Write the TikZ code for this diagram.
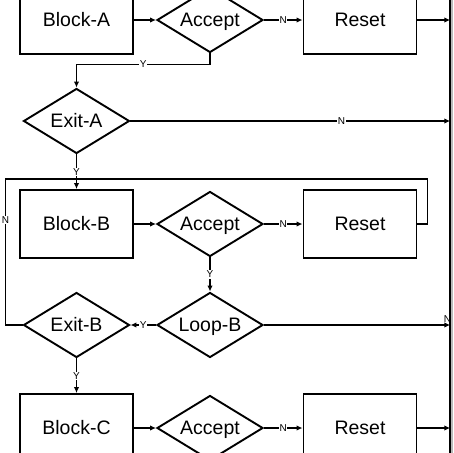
\documentclass[tikz,border=0pt]{standalone}
\usepackage{fontspec}
\setmainfont{Liberation Sans}
\usetikzlibrary{shapes.geometric,arrows.meta}
\begin{document}
\begin{tikzpicture}[x=1pt,y=-1pt,
  txt/.style={font=\fontsize{19.5}{22}\selectfont, text height=13.8pt, text depth=0pt},
  box/.style={draw, txt, line width=1.9pt, minimum width=113pt, minimum height=68pt, inner sep=0pt},
  dia/.style={draw, txt, diamond, line width=1.9pt, aspect=1.63, minimum width=106pt, minimum height=65pt, inner sep=0pt},
  ln/.style={line width=1.9pt},
  arr/.style={ln, -{Latex[length=6pt,width=5.5pt]}},
  lbl/.style={fill=white, inner sep=0.6pt, font=\fontsize{10}{11}\selectfont}]
\useasboundingbox (0,0) rectangle (453,453);
% bus at right
\coordinate (busT) at (450.3,-5);
\coordinate (busB) at (450.3,460);
\fill[gray!55] (451,-5) rectangle (453,460);
\draw[ln] (busT) -- (busB);
% nodes
\node[box] (bA) at (76.5,20) {Block-A};
\node[dia] (aA) at (210,20) {Accept};
\node[box] (rA) at (360,20) {Reset};
\node[dia] (eA) at (76.5,121) {Exit-A};
\node[box] (bB) at (76.5,224) {Block-B};
\node[dia] (aB) at (210,224) {Accept};
\node[box] (rB) at (360,224) {Reset};
\node[dia] (lB) at (210,325) {Loop-B};
\node[dia] (eB) at (76.5,325) {Exit-B};
\node[box] (bC) at (76.5,428) {Block-C};
\node[dia] (aC) at (210,428) {Accept};
\node[box] (rC) at (360,428) {Reset};
\coordinate (jB) at (76.5,179);
\coordinate (lx) at (5.5,179);
% connectors
\draw[arr] (bA) -- (aA);
\draw[arr] (aA) -- node[lbl]{N} (rA);
\draw[arr] (rA) -- (rA -| busT);
\draw[arr] (aA.south) -- ++(0,11) -| node[lbl,pos=0.25]{Y} (eA.north);
\draw[arr] (eA) -- node[lbl,pos=0.66]{N} (eA -| busT);
\draw[arr] (eA.south) -- node[lbl]{Y} (bB.north);
\draw[ln] (rB.east) -- ++(10,0) |- (jB);
\draw[ln] (eB.west) -| node[lbl,pos=0.86]{N} (lx) -- (jB);
\draw[arr] (bB) -- (aB);
\draw[arr] (aB) -- node[lbl]{N} (rB);
\draw[arr] (aB.south) -- node[lbl]{Y} (lB.north);
\draw[arr] (lB) -- node[lbl]{Y} (eB);
\draw[arr] (lB) -- node[lbl,pos=0.985,above=1pt,fill=none]{N} (lB -| busT);
\draw[arr] (eB.south) -- node[lbl]{Y} (bC.north);
\draw[arr] (bC) -- (aC);
\draw[arr] (aC) -- node[lbl]{N} (rC);
\draw[arr] (rC) -- (rC -| busT);
\end{tikzpicture}
\end{document}
